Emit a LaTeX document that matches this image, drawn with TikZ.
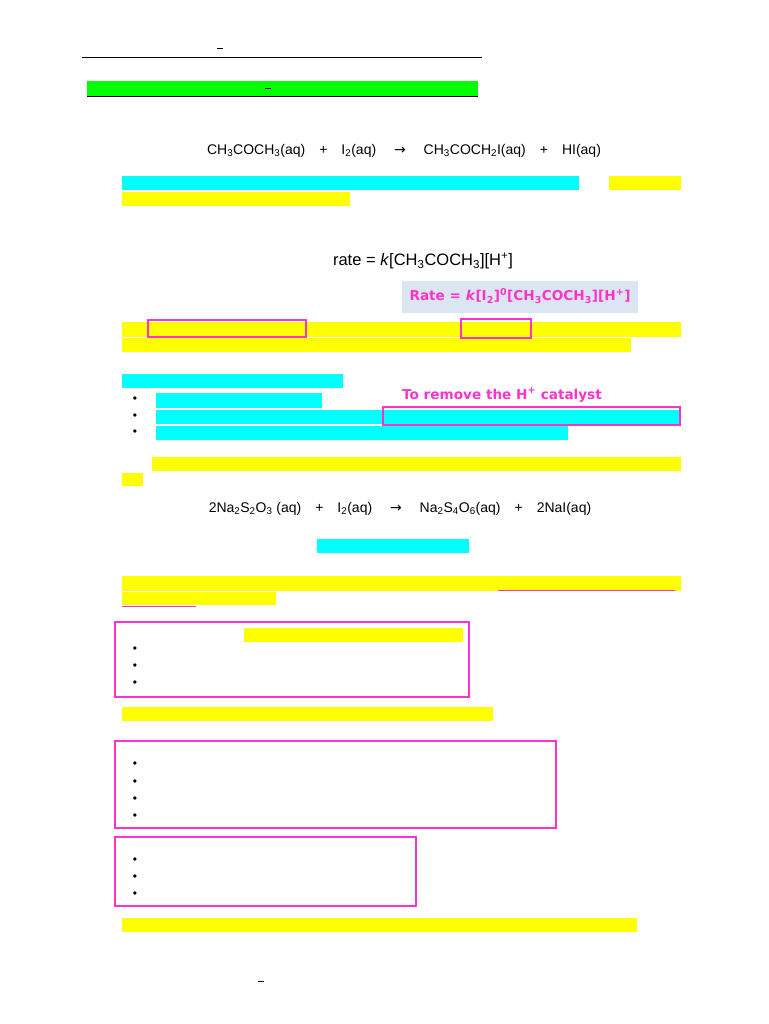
\documentclass[tikz,border=0pt]{standalone}
\usepackage{fontspec}
\setmainfont{Liberation Sans}
\newfontfamily\dvs{DejaVu Sans}
\newcommand{\sbs}[1]{\textsubscript{#1}}
\newcommand{\sps}[1]{\textsuperscript{#1}}
\definecolor{mag}{HTML}{FF33CC}
\definecolor{cy}{HTML}{00FFFF}
\definecolor{ye}{HTML}{FFFF00}
\definecolor{gr}{HTML}{00FF00}
\definecolor{lb}{HTML}{DCE6F2}
\begin{document}
\begin{tikzpicture}[x=1pt,y=-1pt,
  hl/.style={fill=#1,draw=none},
  mbox/.style={draw=mag,line width=1.4pt},
  bul/.style={inner sep=0pt,font=\fontsize{12}{12}\selectfont},
  eq/.style={inner sep=0pt,font=\fontsize{14}{16}\selectfont},
  mtext/.style={inner sep=0pt,text=mag,font=\dvs\bfseries\fontsize{13.6}{16}\selectfont}]
\useasboundingbox[fill=white] (0,0) rectangle (768,1024);
\draw[line width=0.8pt] (82,57) -- (482,57);
\draw (217,48) -- (223,48);
\fill[gr] (87,81) rectangle (478,96);
\draw[line width=0.8pt] (87,96) -- (478,96);
\draw (265,88) -- (271,88);
\node[eq] (e1) at (404,151) {CH\sbs{3}COCH\sbs{3}(aq)\quad+\quad I\sbs{2}(aq)\quad\ {\dvs→}\ \quad CH\sbs{3}COCH\sbs{2}I(aq)\quad+\quad HI(aq)};
\fill[cy] (122,176) rectangle (579,190);
\fill[ye] (609,176) rectangle (681,190);
\fill[ye] (122,192) rectangle (350,206);
\node[eq,font=\fontsize{16.5}{18}\selectfont] (r1) at (423,261) {rate = \textit{k}[CH\sbs{3}COCH\sbs{3}][H\sps{+}]};
\fill[lb] (402,281) rectangle (638,313);
\node[mtext] (r2) at (520,296) {Rate = \textit{k}[I\sbs{2}]\sps{0}[CH\sbs{3}COCH\sbs{3}][H\sps{+}]};
\fill[ye] (122,322) rectangle (681,337);
\fill[ye] (122,338) rectangle (631,352);
\draw[mbox] (148,320) rectangle (306,337);
\draw[mbox] (461,319) rectangle (531,338);
\fill[cy] (122,374) rectangle (343,388);
\node[mtext,anchor=west] (t1) at (402,395) {To remove the H\sps{+} catalyst};
\fill[cy] (156,393) rectangle (322,408);
\fill[cy] (156,410) rectangle (680,424);
\fill[cy] (156,426) rectangle (568,440);
\draw[mbox] (383,407) rectangle (680,425);
\foreach \y [count=\i] in {400,417,433} \node[bul] (b1\i) at (135,\y) {\textbullet};
\fill[ye] (152,457) rectangle (681,471);
\fill[ye] (122,473) rectangle (143,486);
\node[eq] (e2) at (400,509) {2Na\sbs{2}S\sbs{2}O\sbs{3} (aq)\quad+\quad I\sbs{2}(aq)\quad\ {\dvs→}\ \quad Na\sbs{2}S\sbs{4}O\sbs{6}(aq)\quad+\quad 2NaI(aq)};
\fill[cy] (317,539) rectangle (469,553);
\fill[ye] (122,576) rectangle (681,591);
\fill[ye] (122,592) rectangle (276,605);
\draw[mag] (498,590) -- (675,590);
\draw[mag] (122,606) -- (196,606);
\draw[mbox] (115,622) rectangle (469,697);
\fill[ye] (244,628) rectangle (463,642);
\foreach \y [count=\i] in {650,667,684} \node[bul] (b2\i) at (135,\y) {\textbullet};
\fill[ye] (122,707) rectangle (493,721);
\draw[mbox] (115,741) rectangle (556,828);
\foreach \y [count=\i] in {765,783,800,817} \node[bul] (b3\i) at (135,\y) {\textbullet};
\draw[mbox] (115,837) rectangle (416,906);
\foreach \y [count=\i] in {861,878,895} \node[bul] (b4\i) at (135,\y) {\textbullet};
\fill[ye] (122,918) rectangle (637,932);
\draw (258,981) -- (264,981);
\end{tikzpicture}
\end{document}
